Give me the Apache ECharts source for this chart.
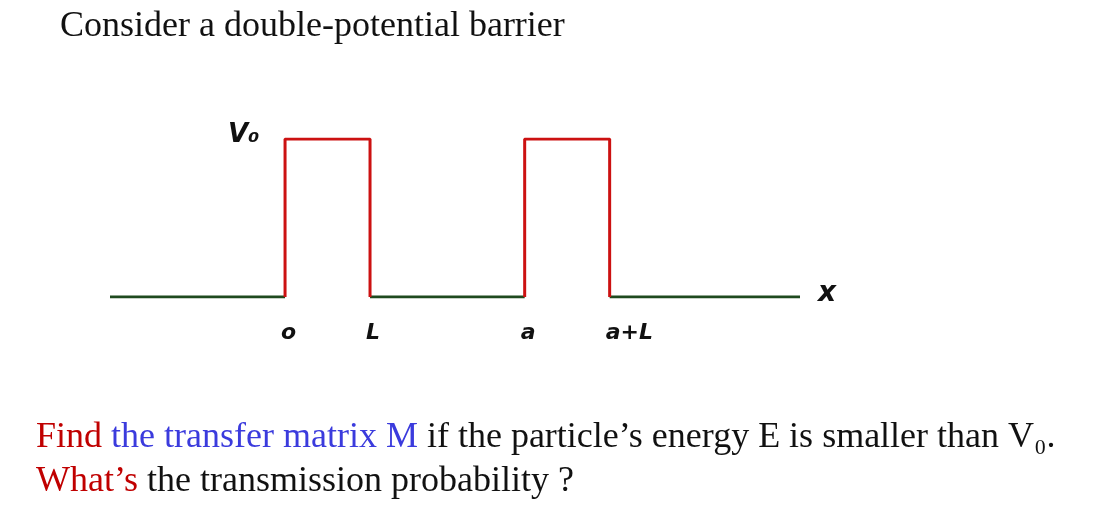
<!DOCTYPE html><html><head><meta charset="utf-8"><script src="https://cdn.jsdelivr.net/npm/echarts@6/dist/echarts.min.js"></script></head><body style="margin:0;background:#fff"><div id="c" style="width:1115px;height:528px"></div><script>
const L=1, A=2.82, XMIN=-2.06, XMAX=6.06, V0=1;
const ground=[[[XMIN,0],[0,0]],[[L,0],[A,0]],[[A+L,0],[XMAX,0]]];
const barriers=[[[0,0],[0,V0],[L,V0],[L,0]],[[A,0],[A,V0],[A+L,V0],[A+L,0]]];
const tickLabels=[["o",0],["L",L],["a",A],["a+L",A+L]];
const c=echarts.init(document.getElementById('c'));
const series=[];
ground.forEach(d=>series.push({type:'line',data:d,symbol:'none',lineStyle:{color:'#1f4a1f',width:3},z:1}));
barriers.forEach(d=>series.push({type:'line',data:d,symbol:'none',lineStyle:{color:'#cc1111',width:3},z:2}));
const hw={fontFamily:'DejaVu Sans',fontStyle:'italic',fontWeight:'bold',fontSize:22,fill:'#111'};
const px=v=>110+(v-XMIN)/(XMAX-XMIN)*690;
const F='36px "Liberation Serif"';
const g=[
{type:'text',left:60,top:9,style:{text:'Consider a double-potential barrier',font:F,fill:'#111'}},
{type:'text',left:228,top:122,style:Object.assign({text:'V\u2080'},hw,{fontSize:26})},
{type:'text',left:818,top:280,style:Object.assign({text:'x'},hw,{fontSize:28})},
{type:'text',left:36,top:420,style:{rich:{r:{fill:'#c00000',font:F},b:{fill:'#3b3bdd',font:F},k:{fill:'#111',font:F}},text:'{r|Find }{b|the transfer matrix M }{k|if the particle\u2019s energy E is smaller than V\u2080.}'}},
{type:'text',left:36,top:464,style:{rich:{r:{fill:'#c00000',font:F},k:{fill:'#111',font:F}},text:'{r|What\u2019s }{k|the transmission probability ?}'}}
];
tickLabels.forEach(([t,v])=>g.push({type:'text',left:px(v)-4,top:322,style:Object.assign({text:t},hw)}));
c.setOption({animation:false,grid:{left:110,right:315,top:139,bottom:231},
xAxis:{type:'value',min:XMIN,max:XMAX,show:false},yAxis:{type:'value',min:0,max:V0,show:false},
series,graphic:g});
</script></body></html>
